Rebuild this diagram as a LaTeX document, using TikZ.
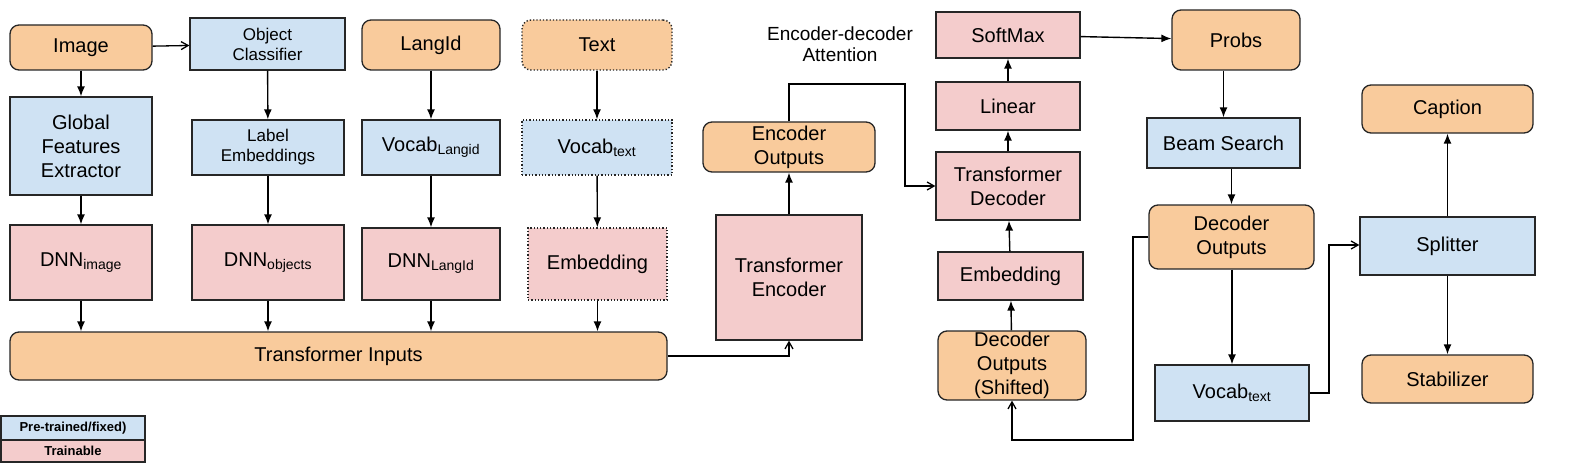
\documentclass[tikz,border=0pt]{standalone}
\usepackage{fontspec}
\setmainfont{Liberation Sans}
\usetikzlibrary{arrows.meta}
\definecolor{orng}{HTML}{F9CB9C}
\definecolor{blu}{HTML}{CFE2F3}
\definecolor{pnk}{HTML}{F4CCCC}
\tikzset{
  box/.style={draw=black!85, line width=1.3pt, align=center, inner sep=0pt,
    font=\fontsize{20}{24}\selectfont},
  io/.style={box, fill=orng, rounded corners=9pt},
  fixed/.style={box, fill=blu},
  train/.style={box, fill=pnk},
  small/.style={font=\fontsize{17}{20}\selectfont},
  dots/.style={dotted, line width=1.4pt},
  big/.style={-{Latex[length=10pt,width=8pt]}, line width=1.4pt},
  thin/.style={-{Straight Barb[length=7pt,width=8pt]}, line width=1.3pt}
}
% box at pixel corners: \bx{name}{style}{x1}{y1}{x2}{y2}{text}
\newcommand{\bx}[7]{\node[#2, minimum width={(#5-#3)*1pt}, minimum height={(#6-#4)*1pt}]
  (#1) at ({(#3+#5)/2},{(#4+#6)/2}) {#7};}
\newcommand{\sub}[1]{\textsubscript{\fontsize{14}{16}\selectfont #1}}
\begin{document}
\begin{tikzpicture}[x=1pt,y=-1pt]
\useasboundingbox (0,0) rectangle (1578,468);
% inputs
\bx{img}{io}{10}{25}{152}{70}{Image}
\bx{cls}{fixed,small}{190}{18}{345}{70}{Object\\Classifier}
\bx{lang}{io}{362}{20}{500}{70}{LangId}
\bx{txt}{io,dots}{522}{20}{672}{70}{Text}
\bx{gfe}{fixed}{10}{97}{152}{195}{Global\\Features\\Extractor}
\bx{lbl}{fixed,small}{192}{120}{344}{175}{Label\\Embeddings}
\bx{vlang}{fixed}{362}{120}{500}{175}{Vocab\sub{Langid}}
\bx{vtxt}{fixed,dots}{522}{120}{672}{175}{Vocab\sub{text}}
\bx{dimg}{train}{10}{225}{152}{300}{DNN\sub{image}}
\bx{dobj}{train}{192}{225}{344}{300}{DNN\sub{objects}}
\bx{dlang}{train}{362}{228}{500}{300}{DNN\sub{LangId}}
\bx{emb}{train,dots}{528}{228}{667}{300}{Embedding}
\bx{tin}{io}{10}{332}{667}{380}{Transformer Inputs}
% encoder
\bx{tenc}{train}{716}{215}{862}{340}{Transformer\\Encoder}
\bx{eout}{io}{703}{122}{875}{172}{Encoder\\Outputs}
\node[font=\fontsize{19}{21}\selectfont, align=center] (att) at (840,44) {Encoder-decoder\\Attention};
% decoder
\bx{soft}{train}{936}{12}{1080}{58}{SoftMax}
\bx{lin}{train}{936}{82}{1080}{130}{Linear}
\bx{tdec}{train}{936}{152}{1080}{220}{Transformer\\Decoder}
\bx{demb}{train}{938}{252}{1083}{300}{Embedding}
\bx{dsh}{io}{938}{331}{1086}{400}{Decoder\\Outputs\\(Shifted)}
% output
\bx{prob}{io}{1172}{10}{1300}{70}{Probs}
\bx{beam}{fixed}{1147}{118}{1300}{168}{Beam Search}
\bx{dout}{io}{1149}{205}{1314}{269}{Decoder\\Outputs}
\bx{vout}{fixed}{1155}{365}{1309}{421}{Vocab\sub{text}}
\bx{spl}{fixed}{1360}{217}{1535}{275}{Splitter}
\bx{cap}{io}{1362}{85}{1533}{133}{Caption}
\bx{stab}{io}{1362}{355}{1533}{403}{Stabilizer}
% legend
\bx{lgf}{fixed,font=\fontsize{13}{15}\selectfont\bfseries}{1}{416}{145}{440}{Pre-trained/fixed)}
\bx{lgt}{train,font=\fontsize{13}{15}\selectfont\bfseries}{1}{440}{145}{462}{Trainable}
% connectors
\draw[thin] (img) -- (cls);
\foreach \a/\b in {cls/lbl, lang/vlang, txt/vtxt, gfe/dimg, lbl/dobj, vlang/dlang, vtxt/emb,
    tenc/eout, dsh/demb, demb/tdec, tdec/lin, lin/soft, spl/cap, spl/stab}
  \draw[big] (\a) -- (\b);
\foreach \a/\b in {prob/beam, beam/dout, dout/vout}
  \draw[big] (\b.north |- \a.south) -- (\b.north);
\draw[big] (img) -- (gfe);
\foreach \n in {dimg, dobj, dlang, emb}
  \draw[big] (\n.south) -- (\n.south |- tin.north);
\draw[thin] (tin.east) -| (tenc.south);
\draw[thin] (eout.north) |- (905,84) |- (tdec.west);
\draw[big] (soft) -- (prob);
\draw[thin] (dout.west) -| (1133,440) -| (dsh.south);
\draw[thin] (vout.east) -| (1329,245) -- (spl.west |- 1329,245);
\end{tikzpicture}
\end{document}
